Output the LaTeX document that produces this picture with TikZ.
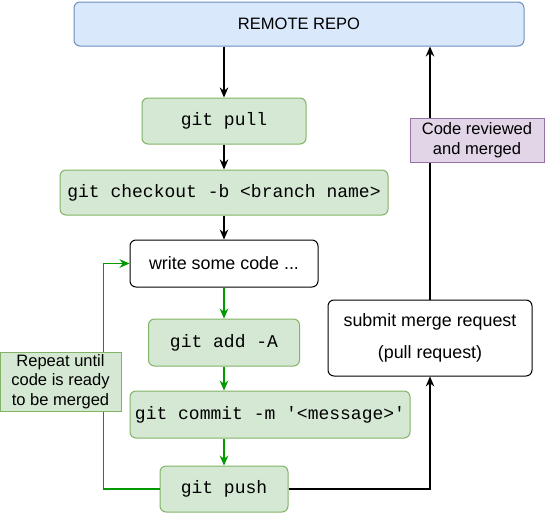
\documentclass[tikz,border=0pt]{standalone}
\usepackage{fontspec}
\setmainfont{Liberation Sans}
\setmonofont{Liberation Mono}
\usepackage{tikz}
\usetikzlibrary{positioning,arrows.meta}
\definecolor{repofill}{HTML}{DAE8FC}
\definecolor{repoline}{HTML}{6C8EBF}
\definecolor{gitfill}{HTML}{D5E8D4}
\definecolor{gitline}{HTML}{82B366}
\definecolor{notefill}{HTML}{E1D5E7}
\definecolor{noteline}{HTML}{9673A6}
\definecolor{loopgreen}{HTML}{009900}

\begin{document}
\begin{tikzpicture}[x=0.75pt,y=-0.75pt,>={Stealth[length=7.5pt,width=6.5pt]},
  box/.style={draw,rounded corners=4.5pt,line width=0.75pt,align=center,inner sep=0pt,font=\fontsize{13.4}{16}\selectfont},
  gitbox/.style={box,draw=gitline,fill=gitfill,font=\fontsize{13.5}{16}\selectfont\ttfamily},
  notebox/.style={box,rounded corners=0pt,font=\fontsize{12.4}{14.8}\selectfont},
  flow/.style={->,line width=1pt},
  loopline/.style={->,line width=1pt,draw=loopgreen}]
\useasboundingbox (0,0) rectangle (546,518);
\node[box,draw=repoline,fill=repofill,minimum width=337.5pt,minimum height=33pt,font=\fontsize{12.4}{15}\selectfont] (remote) at (299,24) {REMOTE REPO};
\node[gitbox,minimum width=123pt,minimum height=34.5pt] (pull) at (224,121) {git pull};
\node[gitbox,minimum width=246pt,minimum height=33.75pt] (checkout) at (224,192.5) {git checkout -b <branch name>};
\node[box,minimum width=141pt,minimum height=35.25pt] (write) at (224,263.5) {write some code ...};
\node[gitbox,minimum width=113.25pt,minimum height=35.25pt] (add) at (224,342.5) {git add -A};
\node[gitbox,minimum width=210pt,minimum height=35.25pt] (commit) at (270,414.5) {git commit -m '<message>'};
\node[gitbox,minimum width=96pt,minimum height=34.5pt] (push) at (224,489) {git push};
\node[box,minimum width=153pt,minimum height=57pt] (submit) at (430,338) {submit merge request\\[8pt](pull request)};
% main flow
\draw[flow] (pull.north |- remote.south) -- (pull.north);
\draw[flow] (pull) -- (checkout);
\draw[flow] (checkout) -- (write);
\draw[loopline] (write) -- (add);
\draw[loopline] (add.south) -- (add.south |- commit.north);
\draw[loopline] (push.north |- commit.south) -- (push.north);
\draw[flow] (push.east) -| (submit.south);
\draw[flow] (submit.north) -- (submit.north |- remote.south);
% repeat loop
\draw[loopline] (push.west) -- ++(-56,0) |- (write.west);
\node[notebox,draw=gitline,fill=gitfill,minimum width=90.75pt,minimum height=44.25pt] (repeat) at (60.5,381.5) {Repeat until\\code is ready\\to be merged};
\node[notebox,draw=noteline,fill=notefill,minimum width=100.5pt,minimum height=33pt] (review) at (477,140) {Code reviewed\\and merged};
\end{tikzpicture}
\end{document}
